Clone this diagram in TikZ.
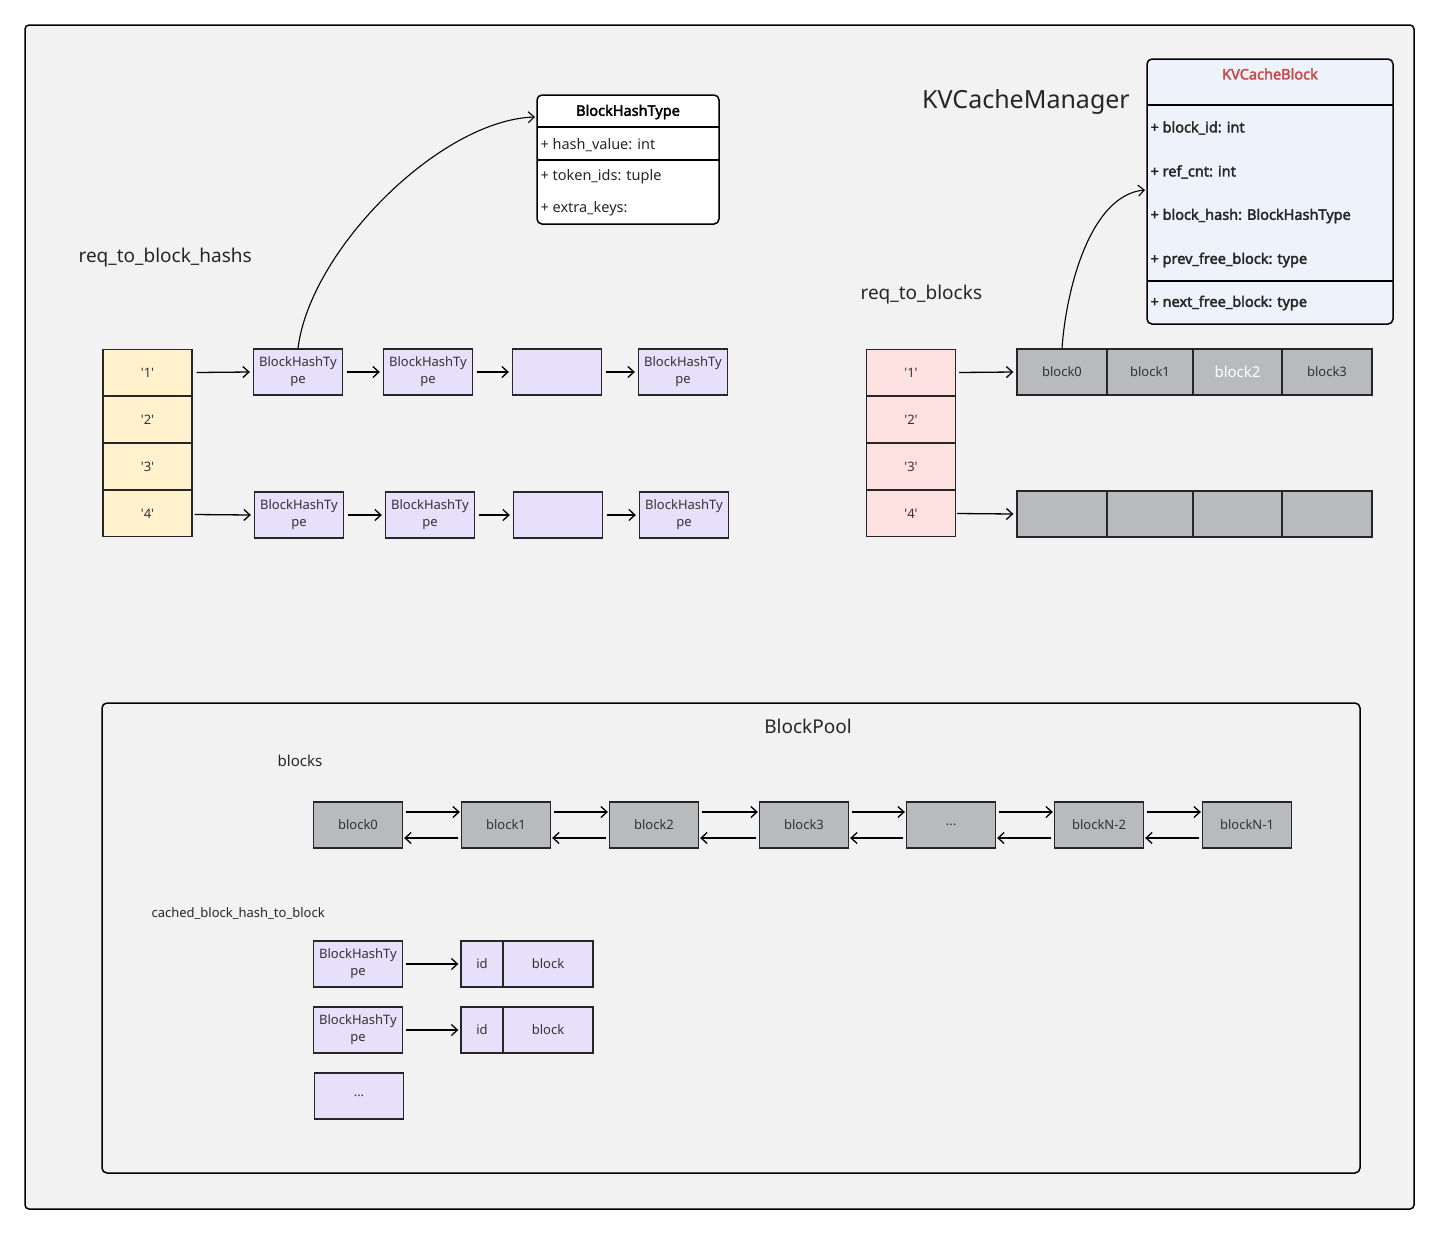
\documentclass[tikz,border=0pt]{standalone}
\usepackage{fontspec}
\setmainfont{Noto Sans}[AutoFakeBold=2.5,Ligatures=TeXOff]
\usetikzlibrary{arrows.meta}
\definecolor{bg}{HTML}{F2F2F2}
\definecolor{yel}{HTML}{FFF2CC}
\definecolor{pur}{HTML}{E6E0FB}
\definecolor{pnk}{HTML}{FDE0E0}
\definecolor{gry}{HTML}{B8BABD}
\definecolor{kvb}{HTML}{EEF2FB}
\definecolor{kvr}{HTML}{C9484A}
\newcommand{\qq}[1]{'#1'}
\tikzset{
 cell/.style={draw=black!85,line width=1.3pt,minimum width=89pt,minimum height=46pt,inner sep=1pt,align=center,font=\fontsize{13}{17}\selectfont,text=black!80},
 Y/.style={cell,fill=yel}, P/.style={cell,fill=pur}, K/.style={cell,fill=pnk}, G/.style={cell,fill=gry},
 ar/.style={-{Straight Barb[length=6pt,width=11pt]},line width=1.3pt},
 lbl/.style={font=\fontsize{19}{22}\selectfont,text=black!85,anchor=west},
 mem/.style={font=\fontsize{14.5}{17}\selectfont,anchor=west,text=black!85},
 bmem/.style={mem,font=\fontsize{14.5}{17}\selectfont\bfseries},
}
\begin{document}
\begin{tikzpicture}[x=1pt,y=-1pt]
\useasboundingbox (0,0) rectangle (1440,1235);
\fill[white] (0,0) rectangle (1440,1235);
\draw[fill=bg,line width=1.5pt,rounded corners=4pt] (25,25) rectangle (1414,1209);
% left
\node[lbl] (l1) at (75,258) {req\_to\_block\_hashs};
\node[Y] (y1) at (147.5,372.5) {\qq{1}};
\node[Y] (y2) at (147.5,419.5) {\qq{2}};
\node[Y] (y3) at (147.5,466.5) {\qq{3}};
\node[Y] (y4) at (147.5,513.5) {\qq{4}};
\node[P] (a1) at (298,372) {BlockHashTy\\pe};
\node[P] (a2) at (428,372) {BlockHashTy\\pe};
\node[P] (a3) at (557,372) {};
\node[P] (a4) at (683,372) {BlockHashTy\\pe};
\node[P] (b1) at (299,515) {BlockHashTy\\pe};
\node[P] (b2) at (430,515) {BlockHashTy\\pe};
\node[P] (b3) at (558,515) {};
\node[P] (b4) at (684,515) {BlockHashTy\\pe};
\draw[ar] ([xshift=4pt]y1.east) -- ([xshift=-3pt]a1.west);
\draw[ar] ([xshift=4pt]a1.east) -- ([xshift=-3pt]a2.west);
\draw[ar] ([xshift=4pt]a2.east) -- ([xshift=-3pt]a3.west);
\draw[ar] ([xshift=4pt]a3.east) -- ([xshift=-3pt]a4.west);
\draw[ar] ([xshift=2pt,yshift=-1pt]y4.east) -- ([xshift=-3pt]b1.west);
\draw[ar] ([xshift=4pt]b1.east) -- ([xshift=-3pt]b2.west);
\draw[ar] ([xshift=4pt]b2.east) -- ([xshift=-3pt]b3.west);
\draw[ar] ([xshift=4pt]b3.east) -- ([xshift=-3pt]b4.west);
% BlockHashType class
\draw[fill=white,line width=1.5pt,rounded corners=5pt] (537,95) rectangle (719,224);
\node (bht) at (628,112) {\fontsize{14.5}{17}\selectfont\bfseries BlockHashType};
\draw[line width=1.2pt] (537,127) -- (719,127) (537,160) -- (719,160);
\node[mem] (m1) at (537,145) {+ hash\_value: int};
\node[mem] (m2) at (537,177) {+ token\_ids: tuple};
\node[mem] (m3) at (537,209) {+ extra\_keys:};
\coordinate (bhin) at (535,117);
\draw[ar,line width=1.1pt] (a1.north) .. controls (310,250) and (440,120) .. (bhin);
% right
\node[font=\fontsize{25}{28}\selectfont,text=black!85] (kvm) at (1026,102) {KVCacheManager};
\node[lbl] (l2) at (857,295) {req\_to\_blocks};
\node[K] (k1) at (911,372.5) {\qq{1}};
\node[K] (k2) at (911,419.5) {\qq{2}};
\node[K] (k3) at (911,466.5) {\qq{3}};
\node[K] (k4) at (911,513.5) {\qq{4}};
\node[G,minimum width=90pt] (c0) at (1062,372) {block0};
\node[G,minimum width=86pt] (c1) at (1150,372) {block1};
\node[G,minimum width=89pt,text=white,font=\fontsize{15}{17}\selectfont] (c2) at (1237.5,372) {block2};
\node[G,minimum width=90pt] (c3) at (1327,372) {block3};
\node[G,minimum width=90pt] (d0) at (1062,514) {};
\node[G,minimum width=86pt] (d1) at (1150,514) {};
\node[G,minimum width=89pt] (d2) at (1237.5,514) {};
\node[G,minimum width=90pt] (d3) at (1327,514) {};
\draw[ar] ([xshift=3pt]k1.east) -- ([xshift=-3pt]c0.west);
\draw[ar] ([xshift=1pt]k4.east) -- ([xshift=-3pt]d0.west);
% KVCacheBlock
\draw[fill=kvb,line width=1.5pt,rounded corners=5pt] (1147,59) rectangle (1393,324);
\node[text=kvr] (kvt) at (1270,74) {\fontsize{14.5}{17}\selectfont\bfseries KVCacheBlock};
\draw[line width=1.2pt] (1147,105) -- (1393,105) (1147,281) -- (1393,281);
\node[bmem] (n1) at (1147,128) {+ block\_id: int};
\node[bmem] (n2) at (1147,172) {+ ref\_cnt: int};
\node[bmem] (n3) at (1147,216) {+ block\_hash: BlockHashType};
\node[bmem] (n4) at (1147,260) {+ prev\_free\_block: type};
\node[bmem] (n5) at (1147,303) {+ next\_free\_block: type};
\coordinate (kvin) at (1145,190);
\draw[ar,line width=1.1pt] (c0.north) .. controls (1066,290) and (1090,195) .. (kvin);
% BlockPool
\draw[line width=1.5pt,rounded corners=5pt] (102,703) rectangle (1360,1173);
\node[font=\fontsize{19}{22}\selectfont,text=black!85] (bp) at (808,726) {BlockPool};
\node[font=\fontsize{15}{17}\selectfont,text=black!85] (bl) at (300,761) {blocks};
\foreach \n/\x/\t in {0/358/block0,1/506/block1,2/654/block2,3/804/block3,4/951/{...},5/1099/blockN-2,6/1247/blockN-1}
  \node[G] (p\n) at (\x,825) {\t};
\foreach \a/\b in {0/1,1/2,2/3,3/4,4/5,5/6}{
  \draw[ar] ([yshift=13pt,xshift=3pt]p\a.east) -- ([yshift=13pt,xshift=-1pt]p\b.west);
  \draw[ar] ([yshift=-13pt,xshift=-3pt]p\b.west) -- ([yshift=-13pt,xshift=1pt]p\a.east);
}
\node[font=\fontsize{13}{15}\selectfont,text=black!85,anchor=west] (cb) at (148,914) {cached\_block\_hash\_to\_block};
\node[P] (h1) at (358,964) {BlockHashTy\\pe};
\node[P] (h2) at (358,1030) {BlockHashTy\\pe};
\node[P] (h3) at (359,1096) {...};
\node[P,minimum width=42pt] (i1) at (482,964) {id};
\node[P,minimum width=90pt] (e1) at (548,964) {block};
\node[P,minimum width=42pt] (i2) at (482,1030) {id};
\node[P,minimum width=90pt] (e2) at (548,1030) {block};
\draw[ar] ([xshift=3pt]h1.east) -- ([xshift=-2pt]i1.west);
\draw[ar] ([xshift=3pt]h2.east) -- ([xshift=-2pt]i2.west);
\end{tikzpicture}
\end{document}
